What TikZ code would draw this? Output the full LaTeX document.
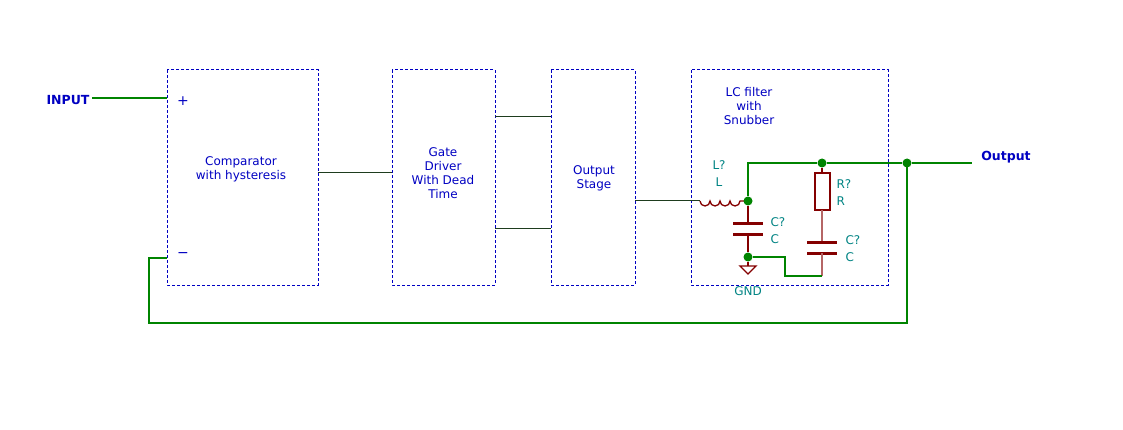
\documentclass[tikz,border=0pt]{standalone}
\usepackage{fontspec}
\setmainfont{DejaVu Sans}
\definecolor{kblue}{RGB}{0,0,194}
\definecolor{kgreen}{RGB}{0,132,0}
\definecolor{kred}{RGB}{132,0,0}
\definecolor{kteal}{RGB}{0,132,132}
\definecolor{kdark}{RGB}{30,60,30}
\begin{document}
\begin{tikzpicture}[x=1pt,y=-1pt,
  blk/.style={draw=kblue,dash pattern=on 3pt off 2pt,line width=1pt},
  btxt/.style={text=kblue,font=\fontsize{12}{14}\selectfont,align=center},
  wire/.style={draw=kgreen,line width=1.3pt},
  dwire/.style={draw=kdark,line width=1pt},
  comp/.style={draw=kred,line width=1.3pt},
  plate/.style={draw=kred,line width=3pt},
  ttxt/.style={text=kteal,font=\fontsize{12}{13}\selectfont,anchor=west},
  dot/.style={circle,fill=kgreen,inner sep=0pt,minimum size=9pt},
  lbl/.style={text=kblue,font=\bfseries\fontsize{12.5}{14}\selectfont}]
\useasboundingbox[fill=white] (0,0) rectangle (1123,430);
% blocks
\draw[blk] (167,70) rectangle (318,285);
\draw[blk] (392,70) rectangle (495,285);
\draw[blk] (551,70) rectangle (635,285);
\draw[blk] (691,70) rectangle (888,285);
\node[btxt] (cmp) at (241,169) {Comparator\\with hysteresis};
\node[btxt] (gd) at (443,173) {Gate\\Driver\\With Dead\\Time};
\node[btxt] (os) at (594,178) {Output\\Stage};
\node[btxt] (lc) at (749,106) {LC filter\\with\\Snubber};
\node[text=kblue,font=\fontsize{14}{14}\selectfont] (plus) at (183,101) {+};
\node[text=kblue,font=\fontsize{14}{14}\selectfont] (minus) at (183,255) {\textminus};
\node[lbl] (inp) at (68,100) {INPUT};
\node[lbl] (out) at (1006,157) {Output};
% coordinates
\coordinate (i1) at (92,98); \coordinate (i2) at (167,98);
\coordinate (m1) at (167,258);
\coordinate (c1) at (318,173); \coordinate (g1) at (392,173);
\coordinate (g2) at (495,117); \coordinate (o2) at (551,117);
\coordinate (g3) at (495,229); \coordinate (o3) at (551,229);
\coordinate (o4) at (635,201); \coordinate (la) at (700,201);
\coordinate (oe) at (972,163);
% wires
\draw[wire] (i1) -- (i2);
\draw[wire] (m1) -- (149,258) -- (149,323) -- (907,323) -- (907,163);
\draw[dwire] (c1) -- (g1);
\draw[dwire] (g2) -- (o2);
\draw[dwire] (g3) -- (o3);
\draw[dwire] (o4) -- (la);
% inductor
\draw[comp] (la) arc (180:0:5) arc (180:0:5) arc (180:0:5) arc (180:0:5) -- (748,201);
\node[dot] (j1) at (748,201) {};
\node[dot] (j2) at (822,163) {};
\node[dot] (j3) at (907,163) {};
\node[dot] (j4) at (748,257) {};
\draw[wire] (j1) -- (748,163) -- (j2) -- (j3) -- (oe);
% left cap
\draw[comp] (j1) -- (748,223);
\draw[plate] (733,224) -- (763,224);
\draw[plate] (733,235) -- (763,235);
\draw[comp] (748,235) -- (j4);
% ground
\draw[comp] (j4) -- (748,266);
\draw[comp] (740,266) -- (756,266) -- (748,274) -- cycle;
% snubber
\draw[comp] (j2) -- (822,173);
\draw[comp,fill=white] (815,173) rectangle (830,210);
\draw[comp,draw=kred!60] (822,210) -- (822,242);
\draw[plate] (807,242) -- (837,242);
\draw[plate] (807,253) -- (837,253);
\draw[comp,draw=kred!60] (822,253) -- (822,276);
\draw[wire] (822,276) -- (785,276) -- (785,257) -- (j4);
% labels
\node[ttxt] (tl1) at (709,165) {L?};
\node[ttxt] (tl2) at (712,182) {L};
\node[ttxt] (tc1) at (767,222) {C?};
\node[ttxt] (tc2) at (767,239) {C};
\node[ttxt] (tr1) at (833,184) {R?};
\node[ttxt] (tr2) at (833,201) {R};
\node[ttxt] (tc3) at (842,240) {C?};
\node[ttxt] (tc4) at (842,257) {C};
\node[text=kteal,font=\fontsize{12}{13}\selectfont] (gnd) at (748,291) {GND};
\end{tikzpicture}
\end{document}
